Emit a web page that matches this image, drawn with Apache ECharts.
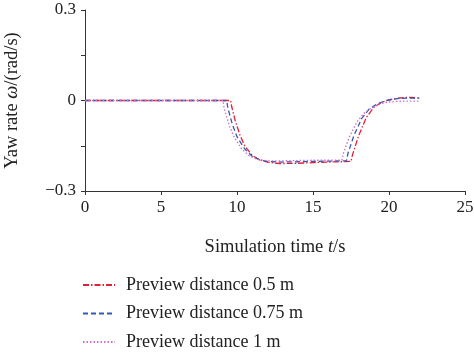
<!DOCTYPE html>
<html>
<head>
<meta charset="utf-8">
<script src="https://cdn.jsdelivr.net/npm/echarts@6/dist/echarts.min.js"></script>
<style>
  html, body { margin: 0; padding: 0; background: #fff; }
</style>
</head>
<body>
<div id="chart" style="width: 474px; height: 353px;"></div>
<script>
// legend names
const seriesNames = ['Preview distance 0.5 m', 'Preview distance 0.75 m', 'Preview distance 1 m'];

// [time (s), yaw rate (rad/s)]
const yaw05 = [[0,0],[9.58,0],[9.65,-0.02],[9.9,-0.07],[10.2,-0.115],[10.5,-0.15],[11,-0.182],[11.5,-0.197],[12,-0.204],[12.5,-0.208],[13,-0.209],[14,-0.208],[15,-0.206],[16,-0.204],[17,-0.203],[17.5,-0.202],[17.6,-0.18],[18,-0.117],[18.5,-0.057],[19,-0.023],[19.5,-0.006],[20,0.002],[20.5,0.007],[21,0.01],[21.5,0.01],[22,0.008]];
const yaw075 = [[0,0],[9.32,0],[9.4,-0.025],[9.7,-0.08],[10,-0.12],[10.5,-0.16],[11,-0.185],[11.5,-0.197],[12,-0.202],[13,-0.204],[14,-0.203],[15,-0.202],[16,-0.201],[17,-0.2],[17.2,-0.2],[17.3,-0.175],[17.7,-0.115],[18.2,-0.06],[18.7,-0.028],[19.2,-0.012],[19.7,-0.002],[20.2,0.004],[20.7,0.007],[21.2,0.008],[22,0.008]];
const yaw1 = [[0,0],[9.08,0],[9.15,-0.025],[9.5,-0.085],[9.8,-0.12],[10.3,-0.16],[10.8,-0.183],[11.3,-0.195],[12,-0.2],[13,-0.2],[14,-0.199],[15,-0.198],[16,-0.198],[16.9,-0.198],[17,-0.175],[17.4,-0.12],[17.9,-0.07],[18.4,-0.04],[19,-0.02],[19.5,-0.01],[20,-0.005],[20.5,-0.003],[21,-0.002],[22,-0.002]];

// labelled y ticks (the 0.15 steps are unlabelled)
const yTickLabels = { '0.3': '0.3', '0': '0', '-0.3': '\u22120.3' };

const serif = 'Liberation Serif';
const ink = '#222';

const chart = echarts.init(document.getElementById('chart'));

const mkSeries = (name, data, color, dash) => ({
  name: name,
  type: 'line',
  data: data,
  symbol: 'none',
  showSymbol: false,
  smooth: false,
  lineStyle: { color: color, width: 1.3, type: dash },
  itemStyle: { color: color },
});

chart.setOption({
  backgroundColor: '#fff',
  animation: false,
  textStyle: { fontFamily: serif, color: ink },
  grid: { left: 85, right: 9, top: 10, bottom: 162, containLabel: false, outerBoundsMode: 'none' },
  xAxis: {
    type: 'value',
    min: 0,
    max: 25,
    interval: 5,
    name: '{n|Simulation time }{i|t}{n|/s}',
    nameLocation: 'middle',
    nameGap: 47,
    nameTextStyle: {
      rich: {
        n: { fontFamily: serif, fontSize: 18.5, color: ink },
        i: { fontFamily: serif, fontSize: 18.5, color: ink, fontStyle: 'italic' },
      },
    },
    splitLine: { show: false },
    axisLine: { onZero: false, lineStyle: { color: '#333', width: 1 } },
    axisTick: { length: 4, lineStyle: { color: '#333' } },
    axisLabel: { fontFamily: serif, fontSize: 17, color: ink, margin: 8 },
  },
  yAxis: {
    type: 'value',
    min: -0.3,
    max: 0.3,
    interval: 0.15,
    name: '{n|Yaw rate }{i|ω}{n|/(rad/s)}',
    nameLocation: 'middle',
    nameGap: 63,
    nameRotate: 90,
    nameTextStyle: {
      rich: {
        n: { fontFamily: serif, fontSize: 18.5, color: ink },
        i: { fontFamily: serif, fontSize: 18.5, color: ink, fontStyle: 'italic' },
      },
    },
    splitLine: { show: false },
    axisLine: { show: true, lineStyle: { color: '#333', width: 1 } },
    axisTick: { show: true, length: 4, lineStyle: { color: '#333' } },
    axisLabel: {
      fontFamily: serif,
      fontSize: 17,
      color: ink,
      margin: 9,
      formatter: v => {
        const k = String(Math.round(v * 100) / 100);
        return yTickLabels[k] !== undefined ? yTickLabels[k] : '';
      },
    },
  },
  legend: {
    orient: 'vertical',
    left: 82,
    top: 276,
    padding: 0,
    itemGap: 10.5,
    itemWidth: 32,
    itemHeight: 14,
    itemStyle: { opacity: 0 },
    textStyle: { fontFamily: serif, fontSize: 18, color: ink, padding: [0, 0, 0, 6] },
    data: seriesNames,
  },
  series: [
    mkSeries(seriesNames[0], yaw05, '#e3203a', [6, 2, 1.5, 2]),
    mkSeries(seriesNames[1], yaw075, '#3558b0', [5, 3]),
    mkSeries(seriesNames[2], yaw1, '#d070c8', [1.5, 2]),
  ],
});
</script>
</body>
</html>
